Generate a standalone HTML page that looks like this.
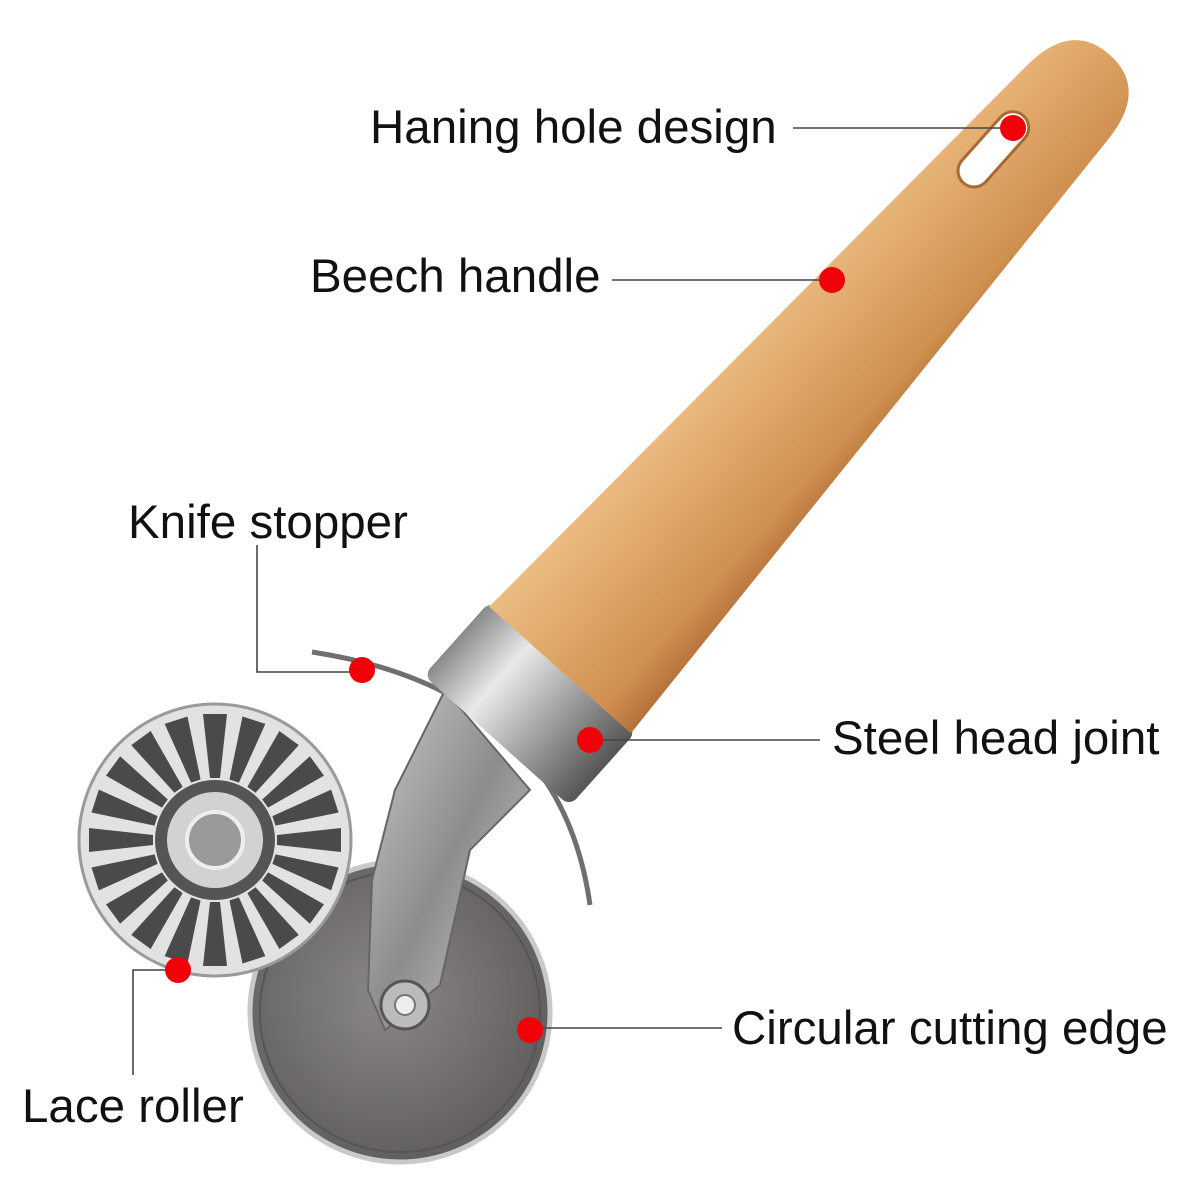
<!DOCTYPE html>
<html><head><meta charset="utf-8"><style>
html,body{margin:0;padding:0;background:#fff}
svg{display:block}
text{font-family:"Liberation Sans",Arial,sans-serif;font-size:47.5px;fill:#111}
</style></head><body>
<svg width="1200" height="1200" viewBox="0 0 1200 1200" xmlns="http://www.w3.org/2000/svg">
<defs>
<linearGradient id="wood" x1="0" y1="0" x2="0" y2="1">
<stop offset="0" stop-color="#ebbd84"/><stop offset="0.35" stop-color="#e1aa6b"/><stop offset="0.8" stop-color="#cf9050"/><stop offset="1" stop-color="#b5703a"/></linearGradient>
<linearGradient id="steel" x1="0" y1="0" x2="0" y2="1">
<stop offset="0" stop-color="#8a8a8a"/><stop offset="0.3" stop-color="#e9e9e9"/><stop offset="0.6" stop-color="#a8a8a8"/><stop offset="1" stop-color="#555"/></linearGradient>
<radialGradient id="blade" cx="0.45" cy="0.45" r="0.6">
<stop offset="0" stop-color="#8a8787"/><stop offset="1" stop-color="#5e5b5b"/></radialGradient>
<linearGradient id="arm" x1="0" y1="0" x2="1" y2="1">
<stop offset="0" stop-color="#c9c9c9"/><stop offset="0.5" stop-color="#8d8d8d"/><stop offset="1" stop-color="#d0d0d0"/></linearGradient>
</defs>

<circle cx="400" cy="1012" r="150" fill="url(#blade)" stroke="#c9c9c9" stroke-width="5"/>
<circle cx="400" cy="1012" r="140" fill="none" stroke="#555" stroke-width="2"/>

<g transform="translate(215,840)">
<circle r="136" fill="#e2e2e2" stroke="#9a9a9a" stroke-width="3"/>
<g fill="#4a4a4a">
<path d="M-5,-62 L-12,-126 L12,-126 L5,-62Z"/>
<path d="M-5,-62 L-12,-126 L12,-126 L5,-62Z" transform="rotate(18)"/>
<path d="M-5,-62 L-12,-126 L12,-126 L5,-62Z" transform="rotate(36)"/>
<path d="M-5,-62 L-12,-126 L12,-126 L5,-62Z" transform="rotate(54)"/>
<path d="M-5,-62 L-12,-126 L12,-126 L5,-62Z" transform="rotate(72)"/>
<path d="M-5,-62 L-12,-126 L12,-126 L5,-62Z" transform="rotate(90)"/>
<path d="M-5,-62 L-12,-126 L12,-126 L5,-62Z" transform="rotate(108)"/>
<path d="M-5,-62 L-12,-126 L12,-126 L5,-62Z" transform="rotate(126)"/>
<path d="M-5,-62 L-12,-126 L12,-126 L5,-62Z" transform="rotate(144)"/>
<path d="M-5,-62 L-12,-126 L12,-126 L5,-62Z" transform="rotate(162)"/>
<path d="M-5,-62 L-12,-126 L12,-126 L5,-62Z" transform="rotate(180)"/>
<path d="M-5,-62 L-12,-126 L12,-126 L5,-62Z" transform="rotate(198)"/>
<path d="M-5,-62 L-12,-126 L12,-126 L5,-62Z" transform="rotate(216)"/>
<path d="M-5,-62 L-12,-126 L12,-126 L5,-62Z" transform="rotate(234)"/>
<path d="M-5,-62 L-12,-126 L12,-126 L5,-62Z" transform="rotate(252)"/>
<path d="M-5,-62 L-12,-126 L12,-126 L5,-62Z" transform="rotate(270)"/>
<path d="M-5,-62 L-12,-126 L12,-126 L5,-62Z" transform="rotate(288)"/>
<path d="M-5,-62 L-12,-126 L12,-126 L5,-62Z" transform="rotate(306)"/>
<path d="M-5,-62 L-12,-126 L12,-126 L5,-62Z" transform="rotate(324)"/>
<path d="M-5,-62 L-12,-126 L12,-126 L5,-62Z" transform="rotate(342)"/>
</g>
<circle r="60" fill="#555"/>
<circle r="48" fill="#d2d2d2"/>
<circle r="28" fill="#9a9a9a" stroke="#eee" stroke-width="4"/>
</g>

<path d="M312,652 Q560,690 590,905" fill="none" stroke="#6f6f6f" stroke-width="5"/>

<path d="M445,690 L530,790 L470,850 L440,985 L385,1030 L368,990 L372,880 L395,790 Z" fill="url(#arm)" stroke="#666" stroke-width="2"/>
<circle cx="405" cy="1005" r="24" fill="#bbb" stroke="#555" stroke-width="3"/>
<circle cx="405" cy="1005" r="10" fill="#eee" stroke="#777" stroke-width="2"/>

<g transform="translate(560,670) rotate(-48.2)">
<rect x="-95" y="-98" width="100" height="196" rx="10" fill="url(#steel)"/>
<path d="M0,-95 L760,-55 Q825,-52 825,0 Q825,52 760,55 L0,95 Z" fill="url(#wood)"/>
<rect x="632" y="-40" width="90" height="32" rx="16" fill="#fff" stroke="#a86a30" stroke-width="3"/>
</g>

<g stroke="#444" stroke-width="1.6" fill="none">
<line x1="793" y1="128" x2="1005" y2="128"/>
<line x1="612" y1="280" x2="825" y2="280"/>
<polyline points="257,545 257,672 355,672"/>
<line x1="598" y1="740" x2="820" y2="740"/>
<polyline points="172,970 133,970 133,1075"/>
<line x1="538" y1="1028" x2="722" y2="1028"/>
</g>
<g fill="#f2000a">
<circle cx="1013" cy="128" r="13"/>
<circle cx="832" cy="280" r="13"/>
<circle cx="362" cy="670" r="13"/>
<circle cx="590" cy="740" r="13"/>
<circle cx="178" cy="970" r="13"/>
<circle cx="530" cy="1030" r="13"/>
</g>

<text x="370" y="143">Haning hole design</text>
<text x="310" y="292">Beech handle</text>
<text x="128" y="538">Knife stopper</text>
<text x="832" y="754">Steel head joint</text>
<text x="732" y="1044">Circular cutting edge</text>
<text x="22" y="1122">Lace roller</text>
</svg>
</body></html>
